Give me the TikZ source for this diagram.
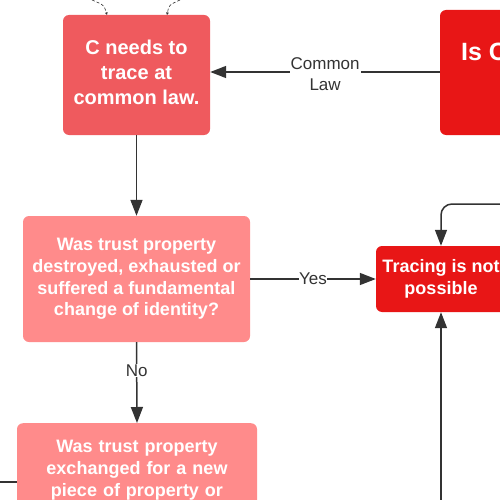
\documentclass[tikz,border=0pt]{standalone}
\usepackage{fontspec}
\setmainfont{Liberation Sans}
\usetikzlibrary{arrows.meta}
\definecolor{coral}{HTML}{EF5A5E}
\definecolor{pinkbox}{HTML}{FF8B8B}
\definecolor{redbox}{HTML}{E81616}
\definecolor{ink}{HTML}{333333}
\tikzset{
  x=1pt, y=-1pt,
  box/.style={rectangle, rounded corners=6pt, draw=none, text=white, align=center, inner sep=0pt},
  arr/.style={draw=ink, line width=1.5pt, -{Triangle[length=16pt,width=12pt]}},
  plain/.style={draw=ink, line width=1.5pt},
  lbl/.style={fill=white, text=ink, font=\fontsize{17}{21}\selectfont, inner sep=1pt, align=center},
  dotc/.style={draw=ink, line width=0.6pt, densely dashed, -{Triangle[length=2.5pt,width=2.5pt]}}
}
\begin{document}
\begin{tikzpicture}
\useasboundingbox (0,0) rectangle (500,500);
\clip (0,0) rectangle (500,500);
% nodes
\node[box, fill=coral, minimum width=147pt, minimum height=120pt] (A) at (136.5,75) {};
\node[text=white, align=center, inner sep=0pt,
      font=\bfseries\fontsize{20}{25}\selectfont] (At) at (136.5,72) {C needs to\\trace at\\common law.};
\node[box, fill=redbox, minimum width=130pt, minimum height=125pt] (B) at (505,72.5) {};
\node[anchor=base west, text=white, font=\bfseries\fontsize{25}{30}\selectfont, inner sep=0pt] (Bt) at (461,61) {Is C};
\node[box, fill=pinkbox, minimum width=227pt, minimum height=126pt,
      font=\bfseries\fontsize{18}{21.7}\selectfont] (C) at (136.5,279) {Was trust property\\destroyed, exhausted or\\suffered a fundamental\\change of identity?};
\node[box, fill=redbox, minimum width=130pt, minimum height=66pt,
      font=\bfseries\fontsize{18}{22}\selectfont] (D) at (441,279) {Tracing is not\\possible};
\node[box, fill=pinkbox, text width=240pt, anchor=north, inner ysep=17pt,
      font=\bfseries\fontsize{18}{22}\selectfont] (E) at (137,423) {Was trust property\\exchanged for a new\\piece of property or\\\mbox{}\\\mbox{}};
% connectors
\coordinate (bL) at (440,72);
\draw[arr] (bL) -- node[lbl, yshift=-2pt]{Common\\Law} (bL -| A.east);
\draw[arr] (A.south) -- (C.north);
\draw[arr] (C.east) -- node[lbl, inner sep=0pt]{Yes} (D.west);
\draw[arr] (C.south) -- node[lbl, pos=0.35]{No} (E.north);
\coordinate (dR) at (500,204);
\draw[arr, rounded corners=11pt] (dR) -- (dR -| D.north) -- (D.north);
\coordinate (dB) at (441,500);
\draw[arr] (dB) -- (D.south);
\coordinate (eL) at (0,482);
\draw[plain, line width=2pt] (eL) -- (eL -| E.west);
\coordinate (t1) at (92,0);
\coordinate (t1e) at (107,15);
\coordinate (t2) at (180,0);
\coordinate (t2e) at (167,15);
\draw[dotc] (t1) .. controls (104,5) .. (t1e);
\draw[dotc] (t2) .. controls (169,5) .. (t2e);
\end{tikzpicture}
\end{document}
